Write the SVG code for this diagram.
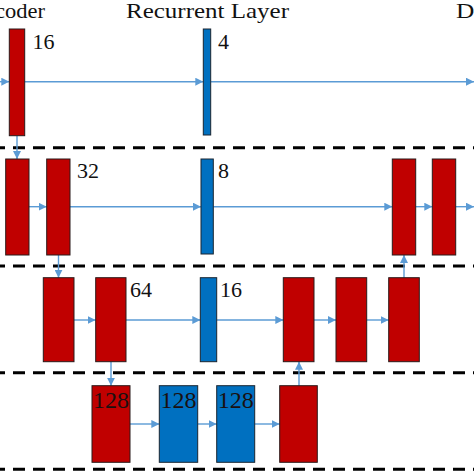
<svg xmlns="http://www.w3.org/2000/svg" width="474" height="474" viewBox="0 0 474 474">
<style>
.red{fill:#C00000;stroke:#2a1a1a;stroke-width:1}
.blue{fill:#0070C0;stroke:#1a2530;stroke-width:1}
.lbl{font-family:"Liberation Serif","Times New Roman",serif;font-size:22px;fill:#111}
.in{font-family:"Liberation Serif","Times New Roman",serif;font-size:24px;fill:#1a1010;text-anchor:middle}
.dash{stroke:#000;stroke-width:3;stroke-dasharray:12 8;stroke-dashoffset:7;fill:none}
.con line{stroke:#5B9BD5;stroke-width:1.4;marker-end:url(#ah)}
</style>
<defs>
<marker id="ah" viewBox="0 0 10 10" refX="10" refY="5" markerWidth="8" markerHeight="8" markerUnits="userSpaceOnUse" orient="auto">
<path d="M0,0 L10,5 L0,10 z" fill="#5B9BD5"/>
</marker>
</defs>
<rect width="474" height="474" fill="#fff"/>
<g id="headers">
<text class="lbl" x="45" y="18.3" text-anchor="end" textLength="75" lengthAdjust="spacingAndGlyphs">Encoder</text>
<text class="lbl" x="126" y="18.3" textLength="163" lengthAdjust="spacingAndGlyphs">Recurrent Layer</text>
<text class="lbl" x="456" y="18.3" textLength="86" lengthAdjust="spacingAndGlyphs">Decoder</text>
</g>
<g id="separators">
<line class="dash" x1="0" y1="147.7" x2="474" y2="147.7"/>
<line class="dash" x1="0" y1="266" x2="474" y2="266"/>
<line class="dash" x1="0" y1="372.7" x2="474" y2="372.7"/>
<line class="dash" x1="0" y1="469.3" x2="474" y2="469.3"/>
</g>
<g id="connectors" class="con">
<line x1="0" y1="81.7" x2="9.3" y2="81.7"/>
<line x1="24.7" y1="81.7" x2="203.3" y2="81.7"/>
<line x1="210.7" y1="81.7" x2="474" y2="81.7"/>
<line x1="17" y1="135.7" x2="17" y2="159"/>
<line x1="29" y1="206.7" x2="46.7" y2="206.7"/>
<line x1="70" y1="206.7" x2="201" y2="206.7"/>
<line x1="213.3" y1="206.7" x2="392.3" y2="206.7"/>
<line x1="415.7" y1="206.7" x2="432.3" y2="206.7"/>
<line x1="455.7" y1="206.7" x2="474" y2="206.7"/>
<line x1="58.5" y1="255" x2="58.5" y2="277.7"/>
<line x1="404" y1="277.7" x2="404" y2="255"/>
<line x1="74" y1="320" x2="95.7" y2="320"/>
<line x1="126" y1="320" x2="200.3" y2="320"/>
<line x1="216.7" y1="320" x2="283.3" y2="320"/>
<line x1="314" y1="320" x2="336" y2="320"/>
<line x1="366.7" y1="320" x2="388.7" y2="320"/>
<line x1="111" y1="361.7" x2="111" y2="385.7"/>
<line x1="299" y1="385.7" x2="299" y2="361.7"/>
<line x1="130" y1="424" x2="159.3" y2="424"/>
<line x1="197.7" y1="424" x2="216.7" y2="424"/>
<line x1="254.7" y1="424" x2="279.7" y2="424"/>
</g>
<g id="enc1"><rect class="red" x="9.3" y="29" width="15.4" height="106.7"/><text class="lbl" x="32.5" y="49">16</text></g>
<g id="rec1"><rect class="blue" x="203.3" y="29" width="7.4" height="106"/><text class="lbl" x="218" y="49">4</text></g>
<g id="enc2a"><rect class="red" x="5.7" y="159" width="23.3" height="96"/></g>
<g id="enc2b"><rect class="red" x="46.7" y="159" width="23.3" height="96"/><text class="lbl" x="77" y="177.5">32</text></g>
<g id="rec2"><rect class="blue" x="201" y="159" width="12.3" height="95"/><text class="lbl" x="218" y="177.5">8</text></g>
<g id="dec2a"><rect class="red" x="392.3" y="159" width="23.4" height="96"/></g>
<g id="dec2b"><rect class="red" x="432.3" y="159" width="23.4" height="96"/></g>
<g id="enc3a"><rect class="red" x="43.3" y="277.7" width="30.7" height="84"/></g>
<g id="enc3b"><rect class="red" x="95.7" y="277.7" width="30.3" height="84"/><text class="lbl" x="130" y="296.5">64</text></g>
<g id="rec3"><rect class="blue" x="200.3" y="277.7" width="16.4" height="84"/><text class="lbl" x="220" y="296.5">16</text></g>
<g id="dec3a"><rect class="red" x="283.3" y="277.7" width="30.7" height="84"/></g>
<g id="dec3b"><rect class="red" x="336" y="277.7" width="30.7" height="84"/></g>
<g id="dec3c"><rect class="red" x="388.7" y="277.7" width="30.6" height="84"/></g>
<g id="enc4"><rect class="red" x="92" y="385.7" width="38" height="76.6"/><text class="in" x="111" y="407.5">128</text></g>
<g id="rec4a"><rect class="blue" x="159.3" y="385.7" width="38.4" height="76.6"/><text class="in" x="178.5" y="407.5">128</text></g>
<g id="rec4b"><rect class="blue" x="216.7" y="385.7" width="38" height="76.6"/><text class="in" x="235.7" y="407.5">128</text></g>
<g id="dec4"><rect class="red" x="279.7" y="385.7" width="37.6" height="76.6"/></g>
</svg>
